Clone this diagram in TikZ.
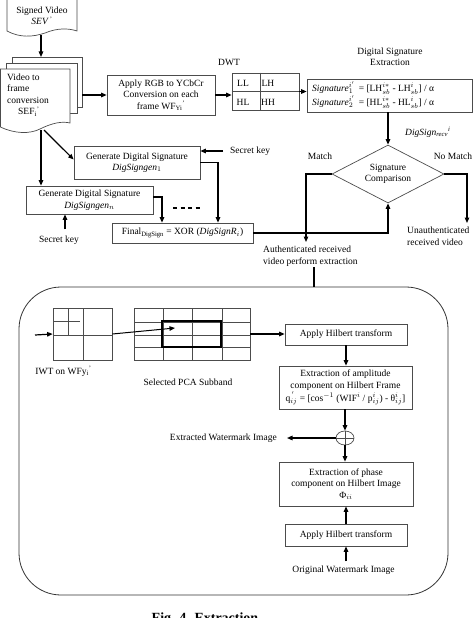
\documentclass[tikz,border=0pt]{standalone}
\usepackage{fontspec}
\setmainfont{Liberation Serif}
\usetikzlibrary{arrows.meta,shapes.geometric,calc}
\newcommand{\fs}{\fontsize{9.5}{11.5}\selectfont}
\begin{document}
\begin{tikzpicture}[x=1pt,y=-1pt,
  bx/.style={draw=black!70,line width=0.7pt,fill=white,inner sep=0pt,align=center,font=\fs},
  lbl/.style={inner sep=1pt,align=center,font=\fs},
  arr/.style={line width=1.2pt,-{Triangle[length=5.5pt,width=4.5pt]}},
  ln/.style={line width=1.2pt},
  pg/.style={draw=black!70,line width=0.7pt,fill=white},
  gridl/.style={draw=black!70,line width=0.7pt}]
\useasboundingbox (0,0) rectangle (474,618);

% ---------- inner rounded frame
\draw[black!80,line width=0.8pt,rounded corners=42pt] (19,287) rectangle (448,595);

% ---------- signed video document
\draw[pg] (7,0) -- (7,31) .. controls (20,38) and (33,37) .. (45,33) .. controls (57,28) and (68,28) .. (77,31) -- (77,0);
\node[lbl] (sv) at (42,16) {Signed Video\\\textit{SEV}\textsuperscript{\,'}};
\coordinate (svS) at (41,35);
\coordinate (stT) at (41,57);
\draw[arr] (svS) -- (stT);

% ---------- stacked frames
\draw[pg] (12,57) rectangle (82,107);
\draw[pg] (6,63) rectangle (77,113);
\draw[pg] (0.5,69) -- (0.5,127) .. controls (15,134) and (30,134) .. (40,129) .. controls (52,123) and (62,121) .. (70,123) -- (70,69) -- cycle;
\node[lbl,align=left,anchor=west] (vf) at (6,95) {Video to\\frame\\conversion\\\hspace*{11pt}SEF\textsubscript{i}\textsuperscript{'}};
\coordinate (stE) at (82,95);
\coordinate (stS) at (41,130);
\coordinate (stD) at (44,130);

% ---------- RGB box
\node[bx,minimum width=108pt,minimum height=40pt] (rgb) at (161,95) {Apply RGB to YCbCr\\Conversion on each\\frame WF\textsubscript{Yi}\textsuperscript{'}};
\draw[arr] (stE) -- (rgb.west);

% ---------- DWT
\node[lbl] (dwtl) at (229,62) {DWT};
\node[bx,minimum width=67pt,minimum height=37pt] (dwt) at (265.5,91.5) {};
\draw[gridl] ([xshift=-5.5pt]dwt.north) -- ([xshift=-5.5pt]dwt.south);
\draw[gridl] (dwt.west) -- (dwt.east);
\node[lbl] (ll) at (243,83) {LL};
\node[lbl] (lh) at (268,83) {LH};
\node[lbl] (hl) at (243,102) {HL};
\node[lbl] (hh) at (268,102) {HH};
\draw[arr] (rgb.east) -- (rgb.east -| dwt.west);

% ---------- signature extraction
\node[lbl] (sigt) at (390,57) {Digital Signature\\Extraction};
\node[bx,minimum width=165pt,minimum height=33pt] (sig) at (389.5,95.5) {};
\node[lbl,anchor=west] (s1) at (311,88) {\textit{Signature}$_1^{i'}$\, = [LH$_{sb}^{i*}$ - LH$_{sb}^{i}$] / α};
\node[lbl,anchor=west] (s2) at (311,102) {\textit{Signature}$_2^{i'}$\, = [HL$_{sb}^{i*}$ - HL$_{sb}^{i}$] / α};
\draw[arr] (dwt.east) -- (dwt.east -| sig.west);

% ---------- comparison
\node[draw=black!70,line width=0.7pt,shape=diamond,aspect=2,minimum width=112pt,minimum height=58pt,inner sep=0pt,align=center,font=\fs] (diam) at (388,174) {Signature\\Comparison};
\draw[arr] (diam.north |- sig.south) -- (diam.north);
\node[lbl,anchor=west] (dsr) at (404,132) {\textit{DigSign}\textsubscript{\textit{recv}}\textsuperscript{\textit{i}}};
\node[lbl] (match) at (320,156) {Match};
\node[lbl] (nomatch) at (453,156) {No Match};
\coordinate (mE) at (306,242);
\coordinate (nmE) at (467,223);
\draw[arr] (diam.west) -| (mE);
\draw[arr] (diam.east) -| (nmE);
\node[lbl,align=left,anchor=west] (unauth) at (406,236) {Unauthenticated\\received video};
\node[lbl,align=left,anchor=west] (auth) at (262,256) {Authenticated received\\video perform extraction};
\coordinate (aD) at (314,287);
\draw[ln] (aD |- auth.south) -- (aD);

% ---------- signature generation
\node[bx,minimum width=126pt,minimum height=33pt] (gen1) at (137,162.5) {Generate Digital Signature\\\textit{DigSigngen}$_1$};
\node[bx,minimum width=127pt,minimum height=28pt] (genn) at (89.5,200) {Generate Digital Signature\\\textit{DigSigngen}$_n$};
\node[bx,minimum width=141pt,minimum height=20pt] (final) at (182.5,233) {Final$_{\mathrm{DigSign}}$ = XOR (\textit{DigSignR}$_i$)};
\draw[arr] (stS) -- (stS |- genn.north);
\draw[arr] (stD) -- ([yshift=3pt]gen1.west);
\draw[arr] (gen1.east) -| ([xshift=35.5pt]final.north);
\draw[arr] ([yshift=3pt]genn.east) -| ([xshift=-20.5pt]final.north);
\draw[arr] (final.east) -| (diam.south);
\node[lbl,anchor=west] (sk1) at (229,151) {Secret key};
\draw[arr] ([xshift=-6pt]sk1.west) -- (sk1.west -| gen1.east);
\node[lbl] (sk2) at (59,240) {Secret key};
\coordinate (sk2t) at ([xshift=6pt,yshift=5pt]sk2.north);
\draw[arr] (sk2t) -- (sk2t |- genn.south);
\draw[line width=1.3pt,dash pattern=on 4pt off 3.5pt] (173,208) -- (200,208);

% ---------- IWT grid
\node[gridl,minimum width=59pt,minimum height=52pt,inner sep=0pt] (iwt) at (82.5,334) {};
\draw[gridl] (83,308) -- (83,360) (53,335) -- (112,335) (68,308) -- (68,335) (53,321) -- (80,321);
\coordinate (iwtIn) at (35,335);
\draw[arr] (iwtIn) -- (iwt.west);
\node[lbl] (iwtl) at (63.5,371) {IWT on WFy\textsubscript{i}\textsuperscript{'}};

% ---------- PCA grid
\node[gridl,minimum width=116pt,minimum height=52pt,inner sep=0pt] (pca) at (192,334) {};
\draw[gridl] (163,308) -- (163,360) (192,308) -- (192,360) (222,308) -- (222,360)
  (134,322) -- (250,322) (134,335) -- (250,335) (134,347) -- (250,347);
\node[draw=black,line width=1.6pt,minimum width=59pt,minimum height=26pt,inner sep=0pt] (sel) at (191.5,334) {};
\draw[line width=1pt,-{Triangle[length=5.5pt,width=4.5pt]}] (iwt.east) -- ([xshift=-16.5pt,yshift=6pt]sel.center);
\node[lbl] (pcal) at (188,382) {Selected PCA Subband};

% ---------- Hilbert chain
\node[bx,minimum width=122pt,minimum height=21pt] (hil1) at (346,334.5) {Apply Hilbert transform};
\draw[arr] (pca.east) -- (pca.east -| hil1.west);
\node[bx,minimum width=133pt,minimum height=43pt] (amp) at (345.5,387.5) {Extraction of amplitude\\component on Hilbert Frame\\q$_{ij}^{\,'}$ = [cos$^{-1}$ (WIF$^{i}$ / p$_{ij}^{i}$) - θ$_{ij}^{i}$]};
\draw[arr] (hil1.south) -- (hil1.south |- amp.north);
\node[draw=black!70,line width=0.7pt,ellipse,minimum width=18pt,minimum height=14pt,inner sep=0pt,fill=white] (ox) at (345,438) {};
\draw[gridl] (ox.north) -- (ox.south) (ox.west) -- (ox.east);
\draw[arr] (ox.north |- amp.south) -- (ox.north);
\node[lbl,anchor=east] (ext) at (278,438) {Extracted Watermark Image};
\draw[arr] (ox.west) -- ([xshift=9pt]ext.east);
\node[bx,minimum width=134pt,minimum height=44pt] (phase) at (346,484) {Extraction of phase\\component on Hilbert Image\\Φ$_{ii}$};
\draw[arr] (ox.south) -- (ox.south |- phase.north);
\node[bx,minimum width=122pt,minimum height=22pt] (hil2) at (346,535) {Apply Hilbert transform};
\draw[arr] (hil2.north) -- (phase.south);
\node[lbl] (orig) at (343.5,570) {Original Watermark Image};
\coordinate (origt) at ([yshift=3pt]orig.north -| hil2.south);
\draw[arr] (origt) -- (hil2.south);

% ---------- caption (cut by page edge, as in the reference)
\node[font=\bfseries\fontsize{14}{16}\selectfont,anchor=base,inner sep=0pt] (cap) at (205,622) {Fig. 4. Extraction};
\end{tikzpicture}
\end{document}
